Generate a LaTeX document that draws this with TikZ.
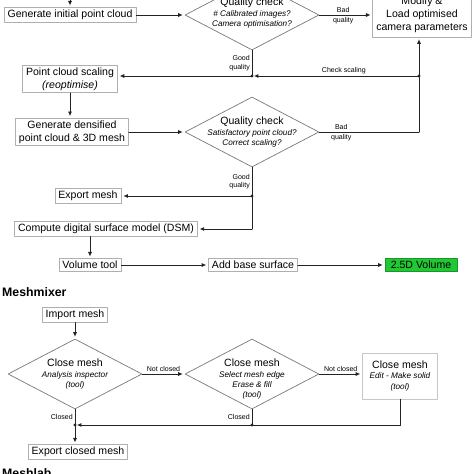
\documentclass[tikz,border=0pt]{standalone}
\usepackage{fontspec}
\setmainfont{Liberation Sans}
\usetikzlibrary{shapes.geometric,arrows.meta}

\definecolor{boxgray}{RGB}{175,175,175}
\definecolor{diagray}{RGB}{120,120,120}
\definecolor{linegray}{RGB}{35,35,35}
\definecolor{volgreen}{RGB}{34,200,52}

\newcommand{\qnote}[1]{{\itshape #1}}

\begin{document}
\begin{tikzpicture}[
  line cap=round,
  line join=round,
  box/.style={
    draw=boxgray,
    line width=0.6pt,
    fill=white,
    inner xsep=3pt,
    inner ysep=2pt,
    align=center,
    font=\fontsize{9}{11}\selectfont
  },
  dia/.style={
    diamond,
    draw=diagray,
    line width=0.6pt,
    minimum width=4.02cm,
    minimum height=2.10cm,
    inner sep=0pt
  },
  diatext/.style={
    align=center,
    inner sep=0pt,
    font=\fontsize{7}{8.5}\selectfont
  },
  lbl/.style={
    font=\fontsize{6}{7.5}\selectfont,
    inner sep=1.5pt
  },
  arr/.style={
    draw=linegray,
    line width=0.8pt,
    -{Latex[length=4pt,width=3.5pt]},
    shorten >=1.5pt
  },
  lin/.style={
    draw=linegray,
    line width=0.8pt
  },
  head/.style={
    font=\fontsize{10.5}{12}\selectfont\bfseries,
    inner sep=0pt
  }
]
  \useasboundingbox (0,0) rectangle (14.22,-14.22);

  % Начальная облако точек и первая проверка
  \coordinate (T) at (2.10,0.40);

  \node[box] (gen) at (2.10,-0.45)
    {Generate initial point cloud};

  \draw[arr] (T) -- (gen.north);

  \node[dia] (q1) at (7.56,-0.45) {};
  \node[diatext] (q1t) at (7.56,-0.40)
    {{\fontsize{9}{11}\selectfont Quality check}\\[1pt]
     \qnote{\# Calibrated images?}\\
     \qnote{Camera optimisation?}};

  \draw[arr] (gen.east) -- (q1.west);

  \node[box,
    minimum width=2.94cm,
    minimum height=1.32cm] (mod) at (12.66,-0.45)
    {Modify \&\\Load optimised\\camera parameters};

  \draw[arr] (q1.east) -- (mod.west)
    node[lbl,pos=0.45,above] {Bad}
    node[lbl,pos=0.45,below] {quality};

  % Масштабирование
  \coordinate (J1) at (7.56,-2.28);
  \coordinate (C1) at (12.57,-2.28);

  \node[box] (scl) at (2.10,-2.37)
    {Point cloud scaling\\\textit{(reoptimise)}};

  \draw[lin] (q1.south) -- (J1)
    node[lbl,midway,left,align=right] {Good\\quality};

  \draw[arr] (C1) -- (J1)
    node[lbl,pos=0.45,above] {Check scaling};

  \draw[arr] (J1) -- (J1 -| scl.east);

  % Плотное облако и вторая проверка
  \node[box] (dens) at (2.16,-3.96)
    {Generate densified\\point cloud \& 3D mesh};

  \draw[arr] (scl.south) -- (scl.south |- dens.north);

  \node[dia] (q2) at (7.56,-3.96) {};
  \node[diatext] (q2t) at (7.56,-3.96)
    {{\fontsize{9}{11}\selectfont Quality check}\\[1pt]
     \qnote{Satisfactory point cloud?}\\
     \qnote{Correct scaling?}};

  \draw[arr] (dens.east) -- (q2.west);

  \coordinate (C2) at (12.57,-3.96);

  \draw[lin] (q2.east) -- (C2)
    node[lbl,pos=0.22,above] {Bad}
    node[lbl,pos=0.22,below] {quality};

  \draw[arr] (C2) -- (C2 |- mod.south);

  % Экспорт и объём
  \coordinate (J2) at (7.56,-5.88);
  \coordinate (C3) at (7.56,-6.87);

  \draw[lin] (q2.south) -- (J2)
    node[lbl,midway,left,align=right] {Good\\quality};

  \node[box] (exp) at (2.64,-5.88) {Export mesh};
  \node[box] (dsm) at (3.18,-6.87)
    {Compute digital surface model (DSM)};

  \draw[arr] (J2) -- (exp.east);
  \draw[lin] (J2) -- (C3);
  \draw[arr] (C3) -- (dsm.east);

  \node[box] (vol) at (2.70,-7.95) {Volume tool};
  \node[box] (base) at (7.59,-7.95) {Add base surface};
  \node[box,
    fill=volgreen,
    draw=volgreen!75!black,
    minimum width=2.16cm] (res) at (12.63,-7.95) {2.5D Volume};

  \draw[arr] (dsm.south -| vol.north) -- (vol.north);
  \draw[arr] (vol.east) -- (base.west);
  \draw[arr] (base.east) -- (res.west);

  % Meshmixer
  \node[head,anchor=west] (mmx) at (0.06,-8.76) {Meshmixer};

  \node[box] (imp) at (2.25,-9.45) {Import mesh};

  \node[dia] (q3) at (2.25,-11.22) {};
  \node[diatext] (q3t) at (2.25,-11.22)
    {{\fontsize{9}{11}\selectfont Close mesh}\\[1pt]
     \qnote{Analysis inspector}\\
     \qnote{(tool)}};

  \draw[arr] (imp.south) -- (q3.north);

  \node[dia] (q4) at (7.56,-11.22) {};
  \node[diatext] (q4t) at (7.56,-11.36)
    {{\fontsize{9}{11}\selectfont Close mesh}\\[1pt]
     \qnote{Select mesh edge}\\
     \qnote{Erase \& fill}\\
     \qnote{(tool)}};

  \draw[arr] (q3.east) -- (q4.west)
    node[lbl,midway,above] {Not closed};

  \node[box,
    draw=boxgray!70,
    minimum width=2.25cm,
    minimum height=1.38cm] (solid) at (12.0,-11.28)
    {Close mesh\\[-2pt]
     {\fontsize{7}{8.5}\selectfont\itshape Edit - Make solid}\\[-2pt]
     {\fontsize{7}{8.5}\selectfont\itshape (tool)}};

  \draw[arr] (q4.east) -- (q4.east -| solid.west)
    node[lbl,midway,above] {Not closed};

  % Замыкание сетки
  \coordinate (J4) at (7.56,-12.75);
  \coordinate (J3) at (2.25,-12.75);

  \draw[lin] (q4.south) -- (J4)
    node[lbl,midway,left] {Closed};

  \draw[lin] (q3.south) -- (J3)
    node[lbl,midway,left] {Closed};

  \draw[arr] (solid.south) |- (J3);

  \node[box] (expc) at (2.34,-13.56) {Export closed mesh};

  \draw[arr] (J3) -- (J3 |- expc.north);

  % Узлы
  \fill[linegray] (J1) circle[radius=0.05];
  \fill[linegray] (C1) circle[radius=0.05];
  \fill[linegray] (J2) circle[radius=0.05];
  \fill[linegray] (J3) circle[radius=0.05];
  \fill[linegray] (J4) circle[radius=0.05];

  % Meshlab
  \node[head,anchor=west] (mlb) at (0.06,-14.19) {Meshlab};
\end{tikzpicture}
\end{document}
